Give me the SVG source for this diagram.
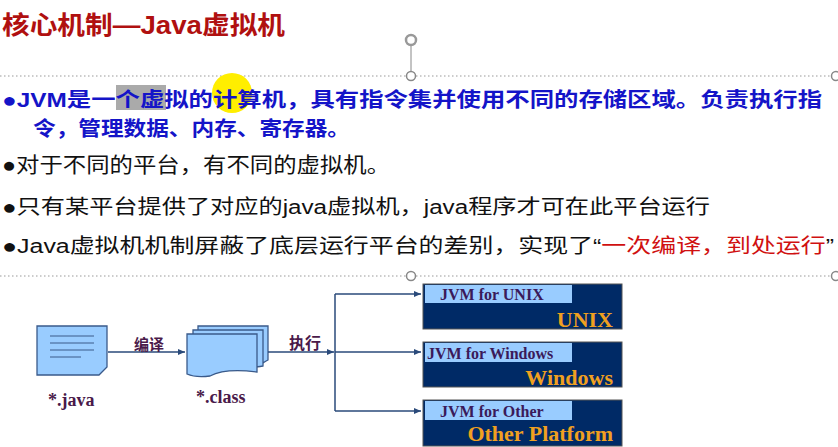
<svg xmlns="http://www.w3.org/2000/svg" width="838" height="447" viewBox="0 0 838 447">
<style>
.cn{font-family:"Liberation Sans","Noto Sans CJK SC",sans-serif;font-size:20px}
.b{fill:#1414c8;font-weight:bold}
.k{fill:#111}
.dot{stroke:#999;stroke-width:1.2;stroke-dasharray:1.5 2.5}
.h{fill:#fff;stroke:#888;stroke-width:1.5}
.doc{fill:#99ccff;stroke:#3a5a8a;stroke-width:1.3}
.ln{stroke:#2a4a7a;stroke-width:1.5;fill:none}
.lbl{font-family:"Liberation Serif","Noto Sans CJK SC",serif;font-weight:bold;fill:#4a1a4a}
.box{fill:#002a66;stroke:#555;stroke-width:1}
.band{fill:#99ccff}
.jv{font-family:"Liberation Serif",serif;font-weight:bold;font-size:16px;fill:#3a1a5a}
.pf{font-family:"Liberation Serif",serif;font-weight:bold;font-size:22px;fill:#f0a020}
</style>
<defs><marker id="a" markerWidth="8" markerHeight="8" refX="7" refY="4" orient="auto" markerUnits="userSpaceOnUse"><path d="M0,1 L7,4 L0,7 z" fill="#2a4a7a"/></marker></defs>
<rect width="838" height="447" fill="#fff"/>
<text x="2" y="34" font-family="Liberation Sans,Noto Sans CJK SC,sans-serif" font-size="25" font-weight="bold" fill="#b01010" textLength="283" lengthAdjust="spacingAndGlyphs">核心机制—Java虚拟机</text>
<g id="handles">
<line x1="411" y1="46" x2="411" y2="72" stroke="#888"/>
<circle cx="411" cy="40" r="5" fill="none" stroke="#999" stroke-width="2.5"/>
<line class="dot" x1="0" y1="76" x2="838" y2="76"/>
<circle class="h" cx="411" cy="76" r="4.5"/><circle class="h" cx="836" cy="76" r="4.5"/>
<line class="dot" x1="0" y1="276" x2="838" y2="276"/>
<circle class="h" cx="411" cy="276" r="4.5"/><circle class="h" cx="836" cy="276" r="4.5"/>
</g>
<rect x="116" y="85" width="50" height="25" fill="#aaa"/>
<circle cx="232" cy="93" r="20" fill="#ffee00"/>
<text class="cn b" x="2" y="107" textLength="820" lengthAdjust="spacingAndGlyphs">●JVM是一个虚拟的计算机，具有指令集并使用不同的存储区域。负责执行指</text>
<text class="cn b" x="33" y="136" textLength="317" lengthAdjust="spacingAndGlyphs">令，管理数据、内存、寄存器。</text>
<text class="cn k" x="2" y="172" style="font-size:21px" textLength="388" lengthAdjust="spacingAndGlyphs">●对于不同的平台，有不同的虚拟机。</text>
<text class="cn k" x="2" y="214" textLength="708" lengthAdjust="spacingAndGlyphs">●只有某平台提供了对应的java虚拟机，java程序才可在此平台运行</text>
<text class="cn k" x="2" y="253" textLength="832" lengthAdjust="spacingAndGlyphs">●Java虚拟机机制屏蔽了底层运行平台的差别，实现了“<tspan fill="#d01010">一次编译，到处运行</tspan>”</text>
<g id="java">
<path class="doc" d="M37,326 H107 V367 L99,375 H37 Z"/>
<g stroke="#3a5a8a" stroke-width="1"><line x1="50" y1="336" x2="94" y2="336"/><line x1="50" y1="343" x2="94" y2="343"/><line x1="50" y1="350" x2="94" y2="350"/><line x1="50" y1="357" x2="81" y2="357"/></g>
<text class="lbl" x="48" y="406" style="font-size:18px">*.java</text>
</g>
<g id="class">
<path class="doc" d="M198,326 H268 V360 Q258,366 262,362 H198 Z"/>
<path class="doc" d="M193,330 H263 V366 Q250,368 257,366 H193 Z"/>
<path class="doc" d="M187,334 H257 V372 Q225,368 210,376 Q196,378 187,374 Z"/>
<text class="lbl" x="196" y="403" style="font-size:18px">*.class</text>
</g>
<g id="connectors">
<line class="ln" x1="108" y1="352" x2="185" y2="352" marker-end="url(#a)"/>
<text class="lbl" x="134" y="350" style="font-size:15px">编译</text>
<line class="ln" x1="268" y1="352" x2="334" y2="352" marker-end="url(#a)"/>
<text class="lbl" x="289" y="349" style="font-size:16px">执行</text>
<line class="ln" x1="335" y1="294" x2="335" y2="411"/>
<line class="ln" x1="335" y1="294" x2="421" y2="294" marker-end="url(#a)"/>
<line class="ln" x1="335" y1="352" x2="421" y2="352" marker-end="url(#a)"/>
<line class="ln" x1="335" y1="411" x2="421" y2="411" marker-end="url(#a)"/>
</g>
<g id="unix"><rect class="box" x="423" y="284" width="199" height="45"/><rect class="band" x="425" y="285" width="147" height="18"/>
<text class="jv" x="440" y="300">JVM for UNIX</text><text class="pf" x="613" y="327" text-anchor="end">UNIX</text></g>
<g id="windows"><rect class="box" x="423" y="342" width="199" height="45"/><rect class="band" x="425" y="343" width="147" height="19"/>
<text class="jv" x="427" y="359">JVM for Windows</text><text class="pf" x="613" y="385" text-anchor="end">Windows</text></g>
<g id="other"><rect class="box" x="423" y="400" width="199" height="46"/><rect class="band" x="425" y="401" width="147" height="19"/>
<text class="jv" x="440" y="417">JVM for Other</text><text class="pf" x="613" y="441" text-anchor="end">Other Platform</text></g>
</svg>
